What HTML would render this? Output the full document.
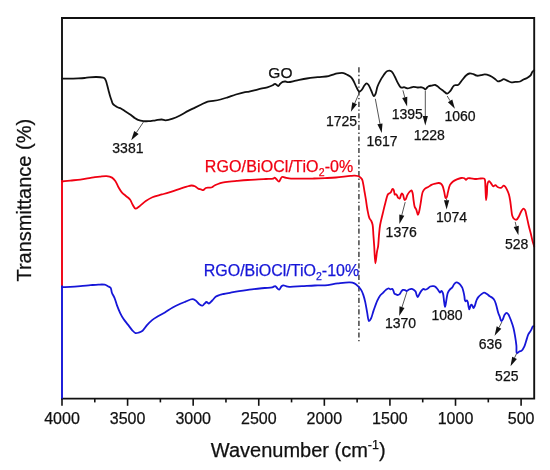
<!DOCTYPE html>
<html><head><meta charset="utf-8"><title>FTIR spectra</title>
<style>
html,body{margin:0;padding:0;background:#fff;}
body{width:550px;height:470px;overflow:hidden;}
svg{display:block;}
text{font-family:"Liberation Sans",Arial,sans-serif;stroke-width:0.25px;}
</style></head><body>
<svg width="550" height="470" viewBox="0 0 550 470">
<rect width="550" height="470" fill="#fff"/>
<line x1="358.9" y1="67.2" x2="358.9" y2="341.3" stroke="#5a5a5a" stroke-width="1.7" stroke-dasharray="5.2 2.45 1.4 2.48"/>
<g fill="none" stroke-width="1.8" stroke-linejoin="round" stroke-linecap="round">
<path stroke="#111" d="M62.00,78.60 C64.37,78.63 66.59,78.72 69.10,78.70 C71.95,78.67 75.45,78.53 78.20,78.40 C80.49,78.29 82.57,78.19 84.50,78.00 C86.16,77.84 87.39,77.56 89.10,77.40 C91.25,77.20 94.02,76.94 96.40,77.00 C98.68,77.06 101.63,77.25 103.10,77.70 C103.88,77.94 104.33,78.11 104.80,78.60 C105.39,79.21 105.71,80.28 106.10,81.30 C106.57,82.55 106.90,84.10 107.30,85.60 C107.73,87.23 108.16,89.04 108.60,90.70 C109.03,92.30 109.41,93.81 109.90,95.40 C110.41,97.07 111.06,98.98 111.60,100.50 C112.05,101.75 112.26,103.02 112.90,103.90 C113.45,104.66 114.26,105.05 115.00,105.60 C115.79,106.18 116.57,106.83 117.50,107.30 C118.52,107.81 119.72,107.92 120.90,108.50 C122.36,109.22 123.92,110.49 125.50,111.50 C127.15,112.56 128.98,113.55 130.60,114.70 C132.18,115.82 133.72,117.41 135.10,118.30 C136.14,118.97 136.85,119.37 138.00,119.80 C139.49,120.36 141.61,120.87 143.40,121.10 C145.11,121.32 146.67,121.30 148.50,121.20 C150.65,121.08 153.23,120.59 155.50,120.30 C157.66,120.02 159.98,119.42 161.80,119.50 C163.20,119.56 164.06,120.30 165.50,120.30 C167.50,120.29 170.33,119.47 172.70,118.70 C175.16,117.89 177.53,116.73 180.00,115.50 C182.69,114.16 185.57,112.27 188.20,110.90 C190.55,109.67 192.77,108.68 195.00,107.60 C197.17,106.55 199.27,105.51 201.40,104.50 C203.50,103.51 205.63,102.19 207.70,101.60 C209.55,101.07 211.24,101.21 213.20,100.90 C215.47,100.54 218.09,100.10 220.50,99.50 C222.92,98.90 225.23,98.10 227.70,97.30 C230.35,96.44 233.08,95.35 235.90,94.50 C238.84,93.61 242.55,92.57 245.00,92.10 C246.62,91.79 247.48,91.90 249.10,91.60 C251.55,91.14 255.16,90.02 258.20,89.30 C261.23,88.58 264.68,88.07 267.30,87.30 C269.36,86.70 271.31,86.00 272.70,85.30 C273.66,84.82 274.17,83.79 275.00,83.80 C275.98,83.81 277.32,86.10 278.20,86.00 C278.93,85.91 279.31,84.66 280.00,84.00 C280.78,83.25 281.73,82.21 282.70,81.80 C283.57,81.44 284.58,81.45 285.50,81.50 C286.41,81.55 287.07,82.09 288.20,82.10 C290.11,82.13 293.11,81.14 295.90,80.60 C299.22,79.96 303.16,79.07 306.80,78.50 C310.42,77.94 314.06,77.60 317.70,77.20 C321.33,76.80 325.80,76.71 328.60,76.10 C330.42,75.70 331.53,75.05 333.00,74.60 C334.46,74.15 335.80,73.65 337.40,73.40 C339.25,73.11 341.74,72.77 343.50,73.10 C344.95,73.37 346.05,74.12 347.30,74.80 C348.62,75.51 350.13,76.23 351.20,77.30 C352.27,78.37 352.91,79.75 353.70,81.20 C354.62,82.89 355.33,85.10 356.30,86.90 C357.24,88.63 358.32,91.65 359.40,91.80 C360.24,91.92 361.23,90.43 362.00,89.50 C362.86,88.47 363.38,86.86 364.20,85.80 C364.93,84.86 365.82,83.44 366.60,83.40 C367.28,83.36 367.97,84.21 368.60,85.00 C369.56,86.22 370.32,88.65 371.20,90.50 C372.09,92.38 373.05,96.12 373.90,96.20 C374.46,96.25 375.02,95.01 375.50,94.00 C376.31,92.29 376.61,88.91 377.50,86.50 C378.38,84.11 379.69,81.59 380.80,79.60 C381.69,78.00 382.68,76.63 383.50,75.40 C384.15,74.42 384.61,73.55 385.30,72.80 C385.95,72.09 386.75,71.36 387.50,71.00 C388.12,70.70 388.78,70.55 389.40,70.60 C390.02,70.65 390.65,70.93 391.20,71.30 C391.80,71.70 392.27,72.27 392.80,73.00 C393.54,74.02 394.31,75.62 395.00,77.00 C395.71,78.42 396.30,80.02 397.00,81.40 C397.64,82.67 398.31,83.94 399.00,85.00 C399.59,85.90 400.11,87.01 400.80,87.40 C401.32,87.70 401.95,87.64 402.50,87.60 C403.04,87.57 403.55,87.17 404.10,87.20 C404.71,87.23 405.36,87.70 406.00,87.90 C406.63,88.10 407.22,88.40 407.90,88.40 C408.70,88.40 409.61,87.94 410.50,87.70 C411.44,87.44 412.33,86.97 413.40,86.90 C414.68,86.82 416.31,87.44 417.70,87.50 C419.00,87.56 420.45,87.15 421.50,87.30 C422.29,87.41 422.87,87.67 423.50,88.00 C424.17,88.35 424.80,89.45 425.40,89.40 C426.03,89.34 426.62,88.05 427.20,87.50 C427.68,87.04 428.00,86.60 428.60,86.30 C429.36,85.91 430.47,85.81 431.50,85.60 C432.65,85.37 434.14,84.81 435.20,85.00 C436.09,85.16 436.79,85.79 437.50,86.30 C438.22,86.82 438.70,87.46 439.50,88.10 C440.57,88.96 442.11,89.98 443.40,90.90 C444.67,91.81 446.01,93.65 447.20,93.60 C448.33,93.55 449.37,92.05 450.40,90.90 C451.69,89.46 452.61,86.29 454.10,85.40 C455.25,84.71 456.82,85.62 458.00,85.00 C459.45,84.24 460.48,82.06 461.80,80.50 C463.24,78.80 464.81,76.40 466.30,75.20 C467.37,74.34 468.35,73.69 469.50,73.50 C470.68,73.30 472.05,73.75 473.30,74.10 C474.59,74.47 475.80,75.52 477.10,75.70 C478.37,75.87 479.71,75.42 481.00,75.20 C482.28,74.98 483.46,74.37 484.80,74.40 C486.33,74.44 488.12,75.05 489.70,75.70 C491.33,76.37 492.99,77.42 494.40,78.40 C495.69,79.30 496.72,81.01 497.90,81.30 C498.86,81.54 499.86,81.03 500.80,80.70 C501.79,80.35 502.68,79.24 503.70,79.20 C504.80,79.16 505.99,80.19 507.20,80.70 C508.51,81.25 509.91,82.21 511.30,82.40 C512.64,82.58 513.99,82.05 515.40,81.90 C516.91,81.74 518.69,81.94 520.10,81.50 C521.40,81.09 522.42,80.09 523.60,79.50 C524.75,78.93 525.97,78.65 527.10,78.00 C528.31,77.30 529.71,76.47 530.60,75.40 C531.46,74.36 531.69,72.61 532.40,71.70 C532.94,71.01 533.60,70.70 534.20,70.20"/>
<path stroke="#f00012" d="M62.00,181.50 C64.73,181.20 67.32,180.90 70.20,180.60 C73.41,180.27 77.01,180.05 80.40,179.60 C83.81,179.15 87.90,178.34 90.60,177.90 C92.37,177.61 93.48,177.41 95.00,177.20 C96.61,176.98 98.22,176.77 100.00,176.60 C102.02,176.40 104.44,175.90 106.50,176.10 C108.43,176.28 110.49,176.72 112.00,177.60 C113.37,178.39 114.31,179.52 115.30,180.90 C116.53,182.61 117.36,185.33 118.50,187.30 C119.54,189.10 120.51,190.81 121.80,192.30 C123.08,193.77 124.78,194.96 126.20,196.20 C127.51,197.35 128.94,198.15 130.00,199.50 C131.15,200.97 131.72,203.22 132.70,204.80 C133.57,206.21 134.37,208.37 135.50,208.60 C136.59,208.83 137.91,207.36 139.30,206.40 C141.23,205.07 143.56,202.64 145.80,201.10 C147.93,199.63 150.06,198.33 152.40,197.30 C154.79,196.25 157.93,195.49 160.00,194.90 C161.41,194.50 162.20,194.39 163.60,194.00 C165.61,193.45 168.23,192.65 170.90,191.80 C174.18,190.75 178.88,189.04 181.80,188.10 C183.75,187.47 185.06,187.03 186.70,186.60 C188.33,186.17 190.13,185.49 191.60,185.50 C192.81,185.51 193.81,185.81 194.90,186.30 C196.17,186.87 197.56,188.43 198.70,188.90 C199.49,189.23 200.18,189.09 200.90,189.30 C201.64,189.52 202.36,190.31 203.10,190.20 C203.99,190.07 204.84,188.42 205.80,188.00 C206.65,187.62 207.59,187.68 208.50,187.60 C209.42,187.52 210.37,187.78 211.30,187.50 C212.38,187.17 213.39,186.08 214.50,185.50 C215.62,184.91 216.76,184.45 218.00,184.00 C219.35,183.51 220.67,183.07 222.30,182.70 C224.38,182.23 227.09,181.90 229.50,181.60 C231.92,181.30 234.12,181.14 236.80,180.90 C240.07,180.61 244.06,180.25 247.70,180.00 C251.33,179.75 255.32,179.58 258.60,179.40 C261.30,179.25 263.55,179.13 266.00,179.00 C268.42,178.87 271.77,179.07 273.20,178.60 C273.89,178.38 274.11,177.67 274.60,177.70 C275.20,177.74 275.83,178.71 276.50,179.30 C277.28,179.99 278.20,181.71 279.00,181.60 C280.02,181.46 280.73,177.52 281.90,177.00 C282.76,176.62 283.74,177.31 284.80,177.50 C286.09,177.73 287.28,178.10 289.10,178.30 C292.22,178.64 297.68,178.67 301.90,178.70 C306.02,178.73 310.15,178.60 314.10,178.50 C317.84,178.40 321.37,178.27 325.00,178.10 C328.63,177.93 332.01,177.82 335.90,177.50 C340.42,177.13 347.07,176.17 350.50,175.90 C352.36,175.76 353.34,175.58 354.80,175.70 C356.34,175.83 358.26,176.01 359.50,176.70 C360.58,177.30 361.38,178.19 362.00,179.30 C362.75,180.64 362.90,182.52 363.30,184.40 C363.78,186.67 364.17,189.46 364.60,192.00 C365.03,194.56 365.46,196.98 365.90,199.70 C366.39,202.77 366.79,206.35 367.40,209.50 C367.97,212.47 368.52,216.05 369.40,218.10 C369.95,219.39 370.78,219.93 371.30,221.00 C371.86,222.15 372.27,223.20 372.60,224.80 C373.13,227.35 373.14,231.54 373.40,235.00 C373.67,238.60 373.91,241.92 374.20,246.00 C374.56,251.12 374.87,263.28 375.40,263.30 C375.84,263.31 376.46,254.73 377.00,251.60 C377.36,249.48 377.81,248.36 378.10,246.30 C378.50,243.50 378.58,239.73 378.90,236.30 C379.24,232.65 379.47,228.78 380.10,225.00 C380.75,221.11 381.90,217.10 382.80,213.30 C383.66,209.68 384.47,206.03 385.40,202.70 C386.25,199.67 386.90,195.59 388.10,194.10 C388.72,193.33 389.65,193.38 390.20,192.90 C390.67,192.49 390.96,192.06 391.30,191.50 C391.72,190.81 391.92,189.14 392.40,189.00 C392.77,188.90 393.35,189.38 393.70,189.90 C394.32,190.82 394.19,194.43 394.80,194.70 C395.11,194.84 395.56,194.04 395.90,194.10 C396.27,194.16 396.58,194.72 396.90,195.20 C397.36,195.88 397.61,197.39 398.20,197.90 C398.64,198.28 399.38,198.61 399.80,198.40 C400.40,198.10 400.50,196.12 400.90,195.20 C401.22,194.47 401.53,193.33 401.90,193.30 C402.24,193.27 402.66,194.04 403.00,194.70 C403.61,195.86 403.91,199.79 404.60,200.00 C404.98,200.11 405.52,199.44 405.90,198.90 C406.48,198.07 406.71,196.36 407.30,195.20 C407.88,194.06 408.62,192.83 409.40,192.00 C410.05,191.31 410.97,190.26 411.50,190.40 C412.06,190.55 412.29,191.95 412.60,193.10 C413.09,194.94 413.24,198.13 413.60,200.50 C413.94,202.71 414.10,205.26 414.70,206.90 C415.12,208.04 415.82,208.52 416.30,209.60 C416.93,211.04 417.38,214.88 417.90,214.90 C418.28,214.92 418.65,213.37 419.00,212.20 C419.60,210.18 420.04,206.76 420.60,203.70 C421.26,200.11 421.66,194.61 422.70,192.00 C423.29,190.52 423.89,189.63 424.80,188.80 C425.72,187.97 427.10,187.65 428.20,187.00 C429.30,186.35 430.22,185.46 431.40,184.90 C432.67,184.30 434.29,183.93 435.60,183.60 C436.73,183.32 437.84,182.92 438.80,183.00 C439.61,183.07 440.38,183.33 441.00,183.80 C441.67,184.30 442.14,185.06 442.60,186.00 C443.25,187.34 443.61,189.41 444.10,191.30 C444.65,193.44 445.00,198.00 445.70,198.20 C446.03,198.29 446.49,197.66 446.80,197.10 C447.35,196.11 447.45,194.07 447.90,192.30 C448.47,190.09 449.00,186.78 450.00,184.90 C450.74,183.51 451.60,182.60 452.70,181.70 C453.87,180.74 455.46,180.02 456.90,179.40 C458.30,178.80 459.86,178.15 461.20,178.00 C462.33,177.87 463.56,177.92 464.40,178.30 C465.09,178.61 465.47,179.80 466.00,179.80 C466.53,179.80 466.91,178.57 467.60,178.30 C468.42,177.98 469.59,178.21 470.70,178.30 C472.02,178.41 473.56,178.95 475.00,179.00 C476.43,179.05 477.84,178.68 479.30,178.60 C480.81,178.51 483.00,178.14 483.90,178.50 C484.37,178.69 484.56,178.89 484.80,179.40 C485.38,180.66 485.21,184.12 485.40,187.00 C485.65,190.80 485.78,200.19 486.10,200.20 C486.32,200.21 486.67,196.18 486.90,193.80 C487.19,190.80 486.93,185.77 487.60,183.60 C487.95,182.47 488.45,181.28 489.00,181.20 C489.50,181.13 490.10,182.13 490.70,182.80 C491.51,183.71 492.39,186.11 493.30,186.30 C493.98,186.44 494.71,185.03 495.40,185.10 C496.15,185.17 496.73,186.54 497.60,187.00 C498.56,187.51 500.01,188.13 501.00,187.90 C501.97,187.67 502.72,185.79 503.50,185.70 C504.10,185.63 504.67,186.08 505.20,186.60 C505.99,187.38 506.67,189.07 507.30,190.40 C507.95,191.77 508.53,193.08 509.00,194.70 C509.58,196.68 509.93,199.21 510.30,201.50 C510.67,203.81 510.88,206.18 511.20,208.50 C511.52,210.81 511.63,213.57 512.20,215.40 C512.61,216.71 513.02,217.88 513.80,218.60 C514.50,219.25 515.69,219.94 516.50,219.70 C517.51,219.40 518.32,217.35 519.10,216.00 C519.94,214.54 520.48,212.50 521.30,211.20 C521.95,210.18 522.72,208.75 523.40,208.70 C523.95,208.66 524.55,209.38 525.00,210.10 C525.77,211.33 526.06,213.79 526.60,216.00 C527.28,218.78 527.96,222.43 528.70,225.50 C529.40,228.42 530.25,231.36 530.90,234.00 C531.46,236.28 531.84,238.30 532.40,240.40 C532.95,242.47 533.60,244.47 534.20,246.50"/>
<path stroke="#1616d8" d="M62.00,287.10 C64.73,287.03 67.32,287.03 70.20,286.90 C73.42,286.75 77.00,286.48 80.40,286.20 C83.80,285.92 87.44,285.48 90.60,285.20 C93.35,284.96 95.85,284.68 98.30,284.60 C100.53,284.53 102.97,284.30 104.70,284.70 C105.99,285.00 106.89,285.67 107.90,286.20 C108.85,286.70 109.95,286.94 110.60,287.80 C111.43,288.90 111.28,291.08 111.90,292.70 C112.56,294.42 113.71,295.90 114.50,297.80 C115.44,300.05 116.06,302.88 117.00,305.40 C117.96,307.98 119.06,310.76 120.20,313.10 C121.21,315.17 122.16,316.94 123.40,318.80 C124.71,320.77 126.41,322.67 127.90,324.60 C129.38,326.51 130.88,328.79 132.30,330.30 C133.39,331.46 134.35,332.77 135.50,333.10 C136.50,333.39 137.61,332.94 138.70,332.60 C139.96,332.20 141.37,331.69 142.60,330.70 C144.17,329.44 145.43,326.96 147.00,325.20 C148.59,323.42 150.21,321.62 152.10,320.10 C154.04,318.54 156.35,317.29 158.50,316.00 C160.62,314.73 162.68,313.72 164.90,312.40 C167.39,310.92 170.08,308.96 172.70,307.50 C175.21,306.10 177.99,304.83 180.30,303.80 C182.18,302.96 183.64,302.42 185.50,301.70 C187.61,300.89 190.44,299.18 192.30,299.20 C193.60,299.21 194.54,299.80 195.60,300.50 C196.89,301.36 198.04,303.41 199.30,304.30 C200.31,305.01 201.51,305.85 202.40,305.70 C203.22,305.56 203.80,304.33 204.50,303.70 C205.17,303.10 205.77,302.06 206.50,302.00 C207.27,301.94 208.15,303.59 209.00,303.50 C210.04,303.39 211.10,301.58 212.20,300.50 C213.43,299.30 214.67,297.54 216.00,296.60 C217.12,295.81 218.27,295.43 219.50,295.00 C220.79,294.55 222.08,294.33 223.60,294.00 C225.49,293.59 227.68,293.22 230.00,292.80 C232.77,292.30 235.80,291.73 239.10,291.20 C243.00,290.57 247.63,289.83 251.90,289.30 C256.16,288.77 260.99,288.36 264.70,288.00 C267.56,287.72 270.39,287.77 272.30,287.30 C273.52,287.00 274.35,285.92 275.20,286.10 C276.05,286.28 276.66,287.79 277.40,288.40 C278.03,288.91 278.70,289.73 279.30,289.60 C280.10,289.42 280.68,286.92 281.50,286.20 C282.09,285.68 282.71,285.34 283.40,285.30 C284.19,285.26 285.09,285.95 286.00,286.20 C286.98,286.46 287.71,286.70 289.10,286.80 C291.91,287.00 297.63,286.42 301.90,286.20 C306.17,285.98 310.66,285.65 314.70,285.50 C318.32,285.37 321.39,285.60 325.00,285.30 C329.05,284.96 333.59,283.89 337.80,283.40 C341.88,282.93 346.86,282.19 349.90,282.40 C351.78,282.53 353.03,282.76 354.40,283.40 C355.80,284.05 357.05,285.17 358.20,286.30 C359.40,287.48 360.54,288.94 361.40,290.40 C362.23,291.81 362.72,293.21 363.30,294.90 C364.01,296.96 364.61,299.33 365.20,301.90 C365.90,304.97 366.45,308.81 367.10,312.10 C367.72,315.20 368.06,320.89 369.00,321.10 C369.56,321.23 370.39,319.66 371.00,318.50 C371.96,316.69 372.55,313.62 373.50,310.90 C374.61,307.72 376.04,303.37 377.30,300.60 C378.20,298.63 378.94,297.08 380.00,295.70 C380.94,294.47 382.18,293.60 383.20,292.60 C384.14,291.67 384.96,290.64 385.90,289.90 C386.74,289.24 387.67,288.33 388.50,288.30 C389.23,288.27 389.94,289.36 390.60,289.40 C391.16,289.43 391.76,288.66 392.20,288.80 C392.67,288.95 392.97,289.75 393.30,290.40 C393.73,291.26 393.82,292.94 394.40,293.60 C394.82,294.08 395.46,294.16 396.00,294.40 C396.53,294.63 397.03,295.01 397.60,295.00 C398.26,294.98 399.11,294.61 399.70,294.10 C400.38,293.51 400.72,292.23 401.30,291.50 C401.80,290.87 402.27,290.13 402.90,289.90 C403.51,289.68 404.37,289.90 405.00,290.10 C405.59,290.29 406.03,291.01 406.60,291.00 C407.26,290.99 407.93,290.06 408.70,289.70 C409.52,289.31 410.51,288.77 411.40,288.80 C412.28,288.83 413.28,289.41 414.00,289.90 C414.65,290.34 415.18,290.79 415.60,291.50 C416.15,292.43 416.27,294.19 416.70,295.20 C417.03,295.96 417.41,297.11 417.80,297.10 C418.29,297.09 418.81,295.12 419.40,294.10 C420.04,292.99 420.72,291.59 421.50,290.70 C422.14,289.97 422.92,289.09 423.60,289.00 C424.15,288.93 424.61,289.70 425.20,289.70 C425.94,289.70 426.89,289.09 427.70,288.60 C428.60,288.05 429.32,286.90 430.30,286.50 C431.26,286.11 432.56,286.09 433.50,286.20 C434.28,286.29 435.00,286.49 435.60,286.90 C436.24,287.33 436.68,288.13 437.20,288.80 C437.75,289.50 438.32,290.32 438.80,291.00 C439.21,291.57 439.47,292.56 439.90,292.60 C440.36,292.64 441.01,290.95 441.50,291.00 C442.02,291.05 442.52,292.11 442.90,293.10 C443.60,294.93 443.71,299.10 444.10,301.60 C444.41,303.58 444.68,306.88 445.00,306.90 C445.22,306.91 445.47,305.38 445.70,304.30 C446.07,302.54 446.39,299.39 446.80,297.30 C447.14,295.57 447.31,293.97 447.90,292.60 C448.42,291.38 449.23,290.27 450.00,289.40 C450.65,288.66 451.45,288.37 452.10,287.60 C452.91,286.65 453.48,284.91 454.30,284.00 C454.95,283.28 455.63,282.50 456.40,282.40 C457.19,282.30 458.19,282.90 459.00,283.50 C459.99,284.23 461.12,285.84 461.70,286.70 C462.05,287.21 462.17,287.43 462.40,288.00 C462.78,288.94 463.17,290.55 463.50,291.90 C463.84,293.32 464.16,294.87 464.40,296.30 C464.62,297.63 464.61,299.32 464.90,300.20 C465.06,300.70 465.21,301.23 465.50,301.30 C465.82,301.38 466.44,300.33 466.80,300.40 C467.17,300.47 467.45,301.17 467.70,301.80 C468.11,302.85 468.20,304.96 468.50,306.30 C468.75,307.41 469.00,309.29 469.30,309.30 C469.57,309.31 469.86,307.60 470.20,306.80 C470.53,306.03 470.88,304.67 471.30,304.60 C471.63,304.55 472.07,305.22 472.40,305.70 C472.83,306.34 473.11,308.18 473.50,308.20 C473.85,308.22 474.27,307.05 474.60,306.30 C475.02,305.35 475.33,304.02 475.70,302.90 C476.06,301.79 476.32,300.63 476.80,299.60 C477.26,298.60 477.79,297.65 478.50,296.80 C479.24,295.91 480.26,295.11 481.20,294.40 C482.10,293.72 483.03,292.67 484.00,292.60 C484.97,292.53 486.06,293.41 487.00,294.00 C487.96,294.60 488.79,295.55 489.70,296.20 C490.56,296.81 491.52,297.13 492.30,297.80 C493.13,298.51 493.89,299.36 494.50,300.40 C495.20,301.60 495.57,303.03 496.10,304.70 C496.81,306.94 497.49,310.48 498.20,312.70 C498.73,314.34 499.27,315.49 499.80,316.90 C500.34,318.32 500.78,321.11 501.40,321.20 C501.88,321.27 502.52,319.89 503.00,319.00 C503.62,317.86 503.87,315.86 504.60,314.80 C505.18,313.96 506.05,312.91 506.70,312.90 C507.27,312.90 507.82,313.66 508.30,314.30 C508.97,315.19 509.50,316.83 510.00,318.00 C510.45,319.05 510.76,319.79 511.20,321.00 C511.85,322.78 512.79,325.39 513.40,327.70 C514.03,330.09 514.44,332.41 514.90,335.10 C515.45,338.29 516.06,342.36 516.40,345.60 C516.69,348.36 516.05,352.91 516.90,353.30 C517.43,353.55 518.47,351.96 519.30,351.50 C520.07,351.08 520.96,351.19 521.70,350.60 C522.73,349.77 523.62,348.06 524.40,346.40 C525.38,344.31 526.09,341.08 526.80,338.90 C527.35,337.21 527.73,335.61 528.30,334.40 C528.73,333.51 529.22,332.94 529.70,332.20 C530.19,331.44 530.70,330.77 531.20,329.90 C531.81,328.83 532.32,326.52 533.00,326.20 C533.37,326.03 533.80,326.40 534.20,326.50"/>
</g>
<g stroke-width="1.9" fill="none" stroke-linecap="square">
<polyline stroke="#111" points="62,18 534.2,18 534.2,398.6 62,398.6"/>
<line stroke="#111" x1="62" y1="18" x2="62" y2="181"/>
<line stroke="#f00012" x1="62" y1="181" x2="62" y2="286.5"/>
<line stroke="#1616d8" x1="62" y1="286.5" x2="62" y2="398.6"/>
</g>
<g stroke="#111" stroke-width="1.6">
<line x1="62.00" y1="398.6" x2="62.00" y2="405.8"/>
<line x1="94.79" y1="398.6" x2="94.79" y2="402.4"/>
<line x1="127.59" y1="398.6" x2="127.59" y2="405.8"/>
<line x1="160.38" y1="398.6" x2="160.38" y2="402.4"/>
<line x1="193.17" y1="398.6" x2="193.17" y2="405.8"/>
<line x1="225.96" y1="398.6" x2="225.96" y2="402.4"/>
<line x1="258.75" y1="398.6" x2="258.75" y2="405.8"/>
<line x1="291.55" y1="398.6" x2="291.55" y2="402.4"/>
<line x1="324.34" y1="398.6" x2="324.34" y2="405.8"/>
<line x1="357.13" y1="398.6" x2="357.13" y2="402.4"/>
<line x1="389.93" y1="398.6" x2="389.93" y2="405.8"/>
<line x1="422.72" y1="398.6" x2="422.72" y2="402.4"/>
<line x1="455.51" y1="398.6" x2="455.51" y2="405.8"/>
<line x1="488.30" y1="398.6" x2="488.30" y2="402.4"/>
<line x1="521.10" y1="398.6" x2="521.10" y2="405.8"/>
</g>
<g font-size="16" fill="#111" stroke="#111" text-anchor="middle">
<text x="62.0" y="424">4000</text>
<text x="127.6" y="424">3500</text>
<text x="193.2" y="424">3000</text>
<text x="258.8" y="424">2500</text>
<text x="324.3" y="424">2000</text>
<text x="389.9" y="424">1500</text>
<text x="455.5" y="424">1000</text>
<text x="521.1" y="424">500</text>
</g>
<text x="298.2" y="456.6" font-size="20" fill="#111" stroke="#111" text-anchor="middle">Wavenumber (cm<tspan font-size="12.5" dy="-7.5">-1</tspan><tspan dy="7.5">)</tspan></text>
<text transform="translate(31.2,200.2) rotate(-90)" font-size="20" fill="#111" stroke="#111" text-anchor="middle">Transmittance (%)</text>
<text x="204.8" y="172.4" font-size="16" letter-spacing="0.12" fill="#f00012" stroke="#f00012">RGO/BiOCl/TiO<tspan font-size="10.5" dy="4">2</tspan><tspan dy="-4">-0%</tspan></text>
<text x="203.7" y="275.5" font-size="16" fill="#1616d8" stroke="#1616d8">RGO/BiOCl/TiO<tspan font-size="10.5" dy="4">2</tspan><tspan dy="-4">-10%</tspan></text>
<g>
<line x1="143.6" y1="121.8" x2="136.4" y2="132.5" stroke="#555" stroke-width="1"/><polygon points="131.2,140.2 134.2,131.0 138.6,133.9" fill="#111"/>
<line x1="359.2" y1="93.0" x2="354.7" y2="103.3" stroke="#555" stroke-width="1"/><polygon points="350.9,111.8 352.3,102.2 357.0,104.3" fill="#111"/>
<line x1="375.3" y1="98.8" x2="380.0" y2="123.9" stroke="#555" stroke-width="1"/><polygon points="381.7,133.0 377.4,124.3 382.5,123.4" fill="#111"/>
<line x1="402.9" y1="90.3" x2="404.8" y2="97.4" stroke="#555" stroke-width="1"/><polygon points="407.1,106.4 402.2,98.1 407.3,96.7" fill="#111"/>
<line x1="425.3" y1="90.5" x2="425.3" y2="116.1" stroke="#555" stroke-width="1"/><polygon points="425.3,125.4 422.7,116.1 427.9,116.1" fill="#111"/>
<line x1="447.2" y1="96.0" x2="450.1" y2="100.8" stroke="#555" stroke-width="1"/><polygon points="454.9,108.8 447.9,102.2 452.3,99.5" fill="#111"/>
<line x1="405.2" y1="202.1" x2="401.8" y2="215.1" stroke="#555" stroke-width="1"/><polygon points="399.4,224.1 399.3,214.4 404.3,215.8" fill="#111"/>
<line x1="446.6" y1="198.8" x2="446.6" y2="200.2" stroke="#555" stroke-width="1"/><polygon points="446.6,209.5 444.0,200.2 449.2,200.2" fill="#111"/>
<line x1="515.2" y1="221.9" x2="516.2" y2="226.3" stroke="#555" stroke-width="1"/><polygon points="518.4,235.3 513.7,226.9 518.8,225.7" fill="#111"/>
<line x1="406.8" y1="292.1" x2="402.0" y2="307.1" stroke="#555" stroke-width="1"/><polygon points="399.2,316.0 399.5,306.3 404.5,307.9" fill="#111"/>
<line x1="501.9" y1="322.0" x2="499.0" y2="327.5" stroke="#555" stroke-width="1"/><polygon points="494.6,335.7 496.7,326.3 501.3,328.7" fill="#111"/>
<line x1="516.7" y1="353.3" x2="514.5" y2="357.9" stroke="#555" stroke-width="1"/><polygon points="510.5,366.3 512.2,356.8 516.9,359.0" fill="#111"/>
</g>
<text x="280.4" y="78.0" font-size="15.5" fill="#111" stroke="#111" text-anchor="middle">GO</text>
<text x="127.9" y="152.5" font-size="14" fill="#111" stroke="#111" text-anchor="middle">3381</text>
<text x="341.6" y="125.8" font-size="14" fill="#111" stroke="#111" text-anchor="middle">1725</text>
<text x="382.0" y="145.7" font-size="14" fill="#111" stroke="#111" text-anchor="middle">1617</text>
<text x="407.3" y="118.6" font-size="14" fill="#111" stroke="#111" text-anchor="middle">1395</text>
<text x="429.3" y="139.9" font-size="14" fill="#111" stroke="#111" text-anchor="middle">1228</text>
<text x="460.0" y="121.4" font-size="14" fill="#111" stroke="#111" text-anchor="middle">1060</text>
<text x="401.2" y="236.5" font-size="14" fill="#111" stroke="#111" text-anchor="middle">1376</text>
<text x="451.6" y="222.3" font-size="14" fill="#111" stroke="#111" text-anchor="middle">1074</text>
<text x="516.7" y="248.7" font-size="14" fill="#111" stroke="#111" text-anchor="middle">528</text>
<text x="400.5" y="328.2" font-size="14" fill="#111" stroke="#111" text-anchor="middle">1370</text>
<text x="447.0" y="319.7" font-size="14" fill="#111" stroke="#111" text-anchor="middle">1080</text>
<text x="490.4" y="348.8" font-size="14" fill="#111" stroke="#111" text-anchor="middle">636</text>
<text x="506.8" y="381.0" font-size="14" fill="#111" stroke="#111" text-anchor="middle">525</text>
</svg>
</body></html>
